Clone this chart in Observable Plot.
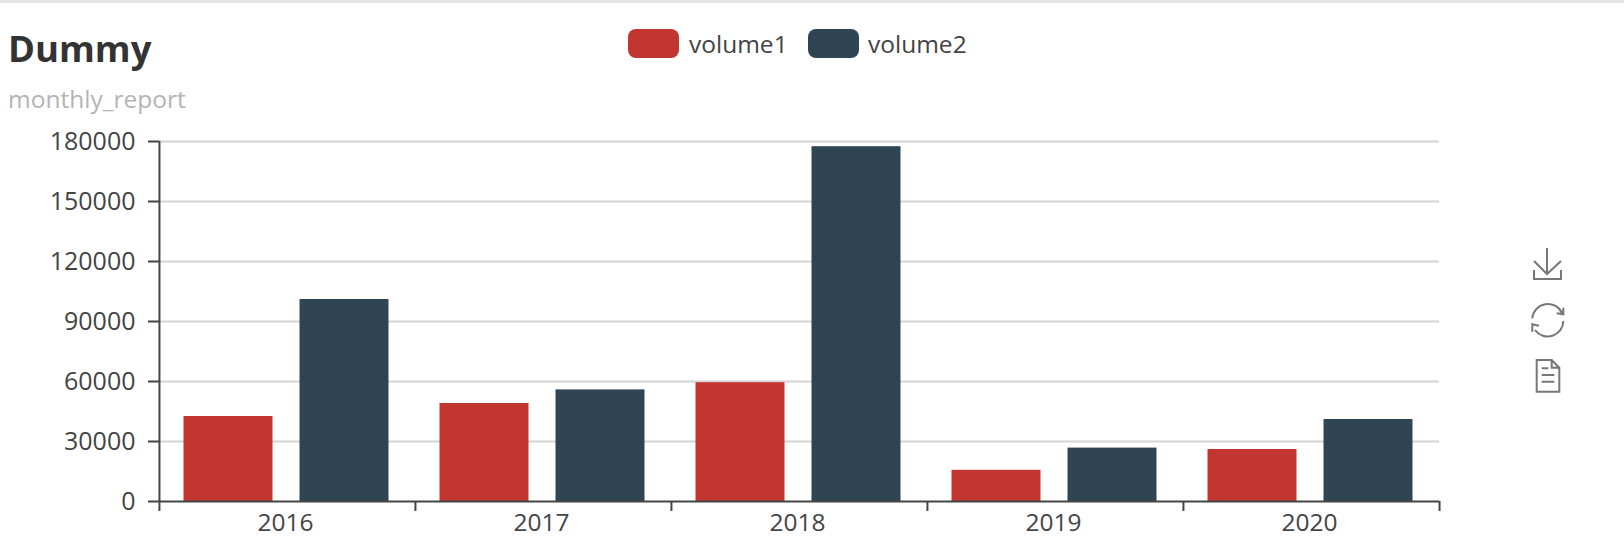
<!DOCTYPE html>
<html>
<head>
<meta charset="utf-8">
<script src="https://cdn.jsdelivr.net/npm/d3@7"></script>
<script src="https://cdn.jsdelivr.net/npm/@observablehq/plot@0.6"></script>
<style>
html,body{margin:0;padding:0;background:#fff;overflow:hidden}
#page{position:relative;width:1624px;height:540px;font-family:"Open Sans",sans-serif}
#stripe{position:absolute;left:0;top:0;width:100%;height:3px;background:#e4e4e4}
#head{position:relative;height:120px}
#title{position:absolute;left:8px;top:23px;font-size:36.5px;font-weight:700;color:#333;line-height:50px}
#sub{position:absolute;left:8px;top:82px;font-size:24.5px;color:#b4b4b4;line-height:34px}
.sw{position:absolute;top:29px;width:51px;height:29px;border-radius:8px}
.lg{position:absolute;top:26px;font-size:24.5px;color:#444;line-height:36px}
#tools{position:absolute;left:1525px;top:240px}
svg{display:block}
</style>
</head>
<body>
<div id="page">
<div id="stripe"></div>
<div id="head">
<div id="title"></div>
<div id="sub"></div>
<div id="legend"></div>
</div>
<div id="chart"></div>
<svg id="tools" width="50" height="160" fill="none" stroke="#777" stroke-width="2">
<path d="M22 8V33M9 21L22 34L36 21M9 30V39H36V30"/>
<path d="M7.3 78.3A15.6 15.6 0 0 1 37 73M31.7 73.3L38.3 74.3V67.7M38.3 81A15.6 15.6 0 0 1 10 90M14 85.7L7.3 84.3V91.7"/>
<path d="M11.7 120H26.7L34.3 127.7V151.7H11.7ZM26.7 120V127.7H34.3M16.7 128.3H23.3M16.7 135H29.3M16.7 141.7H29.3"/>
</svg>
</div>
<script>
const titleText = "Dummy";
const subtitleText = "monthly_report";
const years = ["2016","2017","2018","2019","2020"];
const seriesNames = ["volume1","volume2"];
const seriesColors = ["#c23531","#2f4554"];
const volume1 = [42500,49000,59400,15600,26000];
const volume2 = [101000,55800,177400,26700,41000];
const yTicks = [0,30000,60000,90000,120000,150000,180000];

document.getElementById("title").textContent = titleText;
document.getElementById("sub").textContent = subtitleText;
const legend = document.getElementById("legend");
const swatchX = [628,808], labelX = [689,868];
seriesNames.forEach((n,i)=>{
  const s=document.createElement("div");s.className="sw";s.style.left=swatchX[i]+"px";s.style.background=seriesColors[i];legend.appendChild(s);
  const t=document.createElement("div");t.className="lg";t.style.left=labelX[i]+"px";t.textContent=n;legend.appendChild(t);
});

const rows = [];
years.forEach((year,i)=>{
  rows.push({year,series:seriesNames[0],value:volume1[i]});
  rows.push({year,series:seriesNames[1],value:volume2[i]});
});
const W = 1624, mL = 158.5, mR = 185;
const band = (W-mL-mR)/years.length;
const axisColor = "#444";

const chart = Plot.plot({
  width: W, height: 420,
  marginLeft: mL, marginRight: mR, marginTop: 21, marginBottom: 39,
  style:{fontFamily:'"Open Sans",sans-serif',background:"#fff"},
  fx:{domain:years,padding:0,label:null},
  x:{domain:seriesNames,paddingInner:0.233,paddingOuter:0.219,align:0.488,axis:null},
  y:{domain:[0,180000],label:null},
  color:{domain:seriesNames,range:seriesColors},
  marks:[
    Plot.ruleY(yTicks.slice(1),{stroke:"#d4d4d4",strokeWidth:2,strokeOpacity:1}),
    Plot.barY(rows,{fx:"year",x:"series",y:"value",fill:"series"}),
    Plot.ruleY([0],{stroke:axisColor,strokeWidth:2}),
    Plot.ruleX(years.slice(0,1),{fx:d=>d,x:null,y1:0,y2:180000,dx:-band/2,stroke:axisColor,strokeWidth:2}),
    Plot.ruleX(years,{fx:d=>d,x:null,y1:0,y2:0,insetBottom:-10,dx:-band/2,stroke:axisColor,strokeWidth:2}),
    Plot.ruleX(years.slice(-1),{fx:d=>d,x:null,y1:0,y2:0,insetBottom:-10,dx:band/2,stroke:axisColor,strokeWidth:2}),
    Plot.axisY({ticks:yTicks,tickFormat:d=>String(d),tickSize:11,tickPadding:13,fontSize:25,stroke:axisColor,color:axisColor,strokeWidth:2,label:null}),
    Plot.axisFx({anchor:"bottom",tickSize:0,tickPadding:12,dx:-2,fontSize:24.5,color:axisColor,label:null})
  ]
});
document.getElementById("chart").appendChild(chart);
</script>
</body>
</html>
